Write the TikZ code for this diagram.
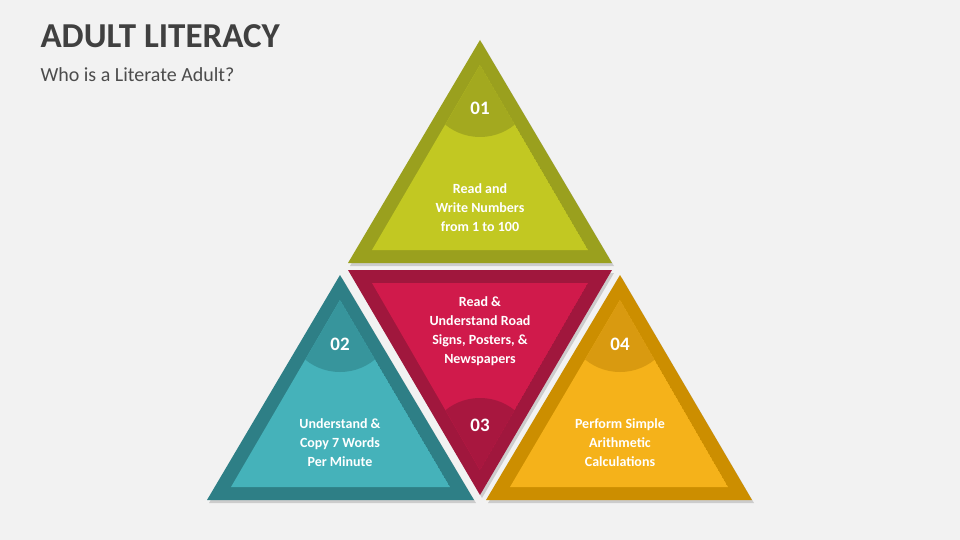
\documentclass[tikz,border=0pt]{standalone}
\usepackage{fontspec}
\setmainfont{Carlito}
\begin{document}
\begin{tikzpicture}[x=1pt,y=-1pt,
  lbl/.style={text=white,font=\bfseries\fontsize{14}{19}\selectfont,align=center},
  num/.style={text=white,font=\bfseries\fontsize{19}{22}\selectfont}]
\definecolor{bg}{HTML}{F2F2F2}
\definecolor{oliveO}{HTML}{9AA01E}\definecolor{oliveI}{HTML}{C2C822}\definecolor{oliveC}{HTML}{A3A91F}
\definecolor{redO}{HTML}{A0173D}\definecolor{redI}{HTML}{D01A4B}\definecolor{redC}{HTML}{A8173F}
\definecolor{tealO}{HTML}{2E7F86}\definecolor{tealI}{HTML}{45B2BA}\definecolor{tealC}{HTML}{37959C}
\definecolor{orO}{HTML}{CC8E00}\definecolor{orI}{HTML}{F5B21A}\definecolor{orC}{HTML}{D99A10}
\fill[bg] (0,0) rectangle (960,540);
\useasboundingbox (0,0) rectangle (960,540);
\node[anchor=west,font=\bfseries\fontsize{35}{40}\selectfont,text=black!75] (title) at (37,36) {ADULT LITERACY};
\node[anchor=west,font=\fontsize{20}{24}\selectfont,text=black!70] (sub) at (37,75) {Who is a Literate Adult?};
% shadows
\foreach \a/\b/\c in {{480,40}/{348,263}/{612,263},{348,270}/{612,270}/{480,495},{340,275}/{207,500}/{474,500},{620,275}/{486,500}/{752,500}}
  \fill[black!20] ([shift={(2,3)}]\a) -- ([shift={(2,3)}]\b) -- ([shift={(2,3)}]\c) -- cycle;
% 01
\fill[oliveO] (480,40) -- (348,263) -- (612,263) -- cycle;
\begin{scope}
\clip (480,65) -- (372,250) -- (588,250) -- cycle;
\fill[oliveI] (480,65) -- (372,250) -- (588,250) -- cycle;
\fill[oliveC] (480,82) circle (55);
\end{scope}
\node[num] (n1) at (480,108) {01};
\node[lbl] (t1) at (480,208) {Read and\\Write Numbers\\from 1 to 100};
% 03
\fill[redO] (348,270) -- (612,270) -- (480,495) -- cycle;
\begin{scope}
\clip (372,283) -- (588,283) -- (480,470) -- cycle;
\fill[redI] (372,283) -- (588,283) -- (480,470) -- cycle;
\fill[redC] (480,453) circle (55);
\end{scope}
\node[num] (n3) at (480,425) {03};
\node[lbl] (t3) at (480,331) {Read \&\\Understand Road\\Signs, Posters, \&\\Newspapers};
% 02
\fill[tealO] (340,275) -- (207,500) -- (474,500) -- cycle;
\begin{scope}
\clip (340,300) -- (231,487) -- (450,487) -- cycle;
\fill[tealI] (340,300) -- (231,487) -- (450,487) -- cycle;
\fill[tealC] (340,317) circle (55);
\end{scope}
\node[num] (n2) at (340,344) {02};
\node[lbl] (t2) at (340,443) {Understand \&\\Copy 7 Words\\Per Minute};
% 04
\fill[orO] (620,275) -- (486,500) -- (752,500) -- cycle;
\begin{scope}
\clip (620,300) -- (510,487) -- (728,487) -- cycle;
\fill[orI] (620,300) -- (510,487) -- (728,487) -- cycle;
\fill[orC] (620,317) circle (55);
\end{scope}
\node[num] (n4) at (620,344) {04};
\node[lbl] (t4) at (620,443) {Perform Simple\\Arithmetic\\Calculations};
\end{tikzpicture}
\end{document}
